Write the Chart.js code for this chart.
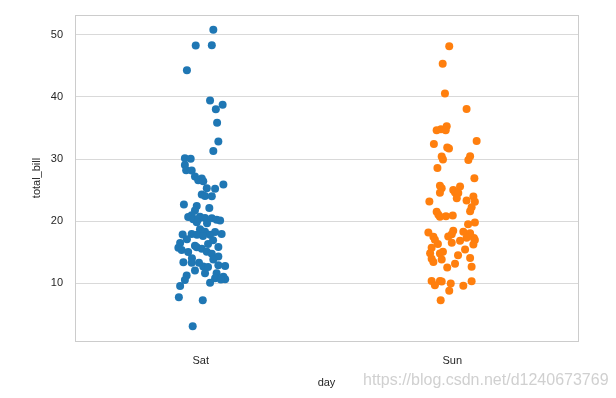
<!DOCTYPE html>
<html>
<head>
<meta charset="utf-8">
<script src="https://cdn.jsdelivr.net/npm/chart.js@4/dist/chart.umd.min.js"></script>
<style>
  html, body { margin: 0; padding: 0; background: #fff; }
  #wrap { width: 616px; height: 398px; }
</style>
</head>
<body>
<div id="wrap"><canvas id="strip"></canvas></div>
<script>
const days = ['Sat', 'Sun'];
const yTicks = [10, 20, 30, 40, 50];

const satBill = [
  50.81, 48.33, 48.27, 44.30, 39.42, 38.73, 38.01, 35.83, 32.83, 31.27,
  30.14, 30.06, 29.03, 28.17, 28.15, 27.18, 26.86, 26.59, 26.41, 25.89,
  25.28, 25.21, 24.27, 24.06, 24.01, 22.67, 22.42, 22.12, 21.70, 20.92,
  20.69, 20.65, 20.49, 20.45, 20.29, 20.29, 20.23, 20.08, 19.82, 19.65,
  18.69, 18.35, 18.29, 18.24, 17.92, 17.92, 17.82, 17.81, 17.78, 17.59,
  17.07, 16.93, 16.45, 16.31, 16.04, 15.81, 15.77, 15.69, 15.53, 15.36,
  15.06, 15.01, 14.73, 14.31, 14.00, 13.81, 13.37, 13.28, 13.27, 12.90,
  12.76, 12.69, 12.60, 12.02, 11.61, 11.59, 11.24, 11.02, 10.77, 10.63,
  10.59, 10.51, 10.07, 9.55, 7.74, 7.25, 3.07
];
// horizontal jitter (category units)
const satJitter = [
  0.050, 0.044, -0.020, -0.055, 0.037, 0.087, 0.060, 0.065, 0.070, 0.050,
  -0.063, -0.040, -0.063, -0.058, -0.036, -0.023, 0.004, -0.010, 0.010, 0.090,
  0.024, 0.057, 0.004, 0.017, 0.044, -0.067, -0.016, 0.034, -0.023, -0.036,
  -0.003, -0.050, 0.017, 0.044, -0.030, -0.010, 0.063, 0.077, -0.016, 0.025,
  -0.003, 0.004, 0.017, 0.057, 0.083, -0.036, -0.072, 0.037, -0.015, 0.009,
  -0.055, 0.049, -0.082, 0.029, -0.023, 0.070, -0.016, -0.089, 0.004, -0.076,
  0.024, -0.050, 0.044, 0.070, -0.035, 0.050, -0.069, -0.036, -0.007, 0.070,
  0.097, 0.010, 0.029, -0.023, 0.017, 0.063, -0.056, 0.090, 0.057, 0.097,
  0.080, -0.063, 0.037, -0.082, -0.087, 0.008, -0.032
];

const sunBill = [
  48.17, 45.35, 40.55, 38.07, 35.26, 34.81, 34.65, 34.63, 32.90, 32.40,
  31.85, 31.71, 30.46, 30.40, 29.93, 29.85, 28.55, 26.88, 25.71, 25.56,
  25.29, 25.00, 24.59, 24.55, 24.52, 23.95, 23.68, 23.33, 23.17, 23.10,
  22.23, 21.58, 21.50, 21.01, 20.90, 20.76, 20.69, 19.77, 19.49, 18.43,
  18.29, 18.15, 18.04, 17.89, 17.51, 17.46, 17.31, 17.26, 16.99, 16.97,
  16.82, 16.49, 16.29, 16.21, 15.69, 15.42, 15.04, 14.83, 14.78, 14.48,
  14.07, 13.94, 13.81, 13.39, 13.13, 12.66, 12.54, 10.34, 10.33, 10.29,
  10.27, 9.94, 9.68, 9.60, 8.77, 7.25
];
const sunJitter = [
  -0.012, -0.038, -0.029, 0.057, -0.022, -0.045, -0.026, -0.062, 0.097, -0.073,
  -0.020, -0.013, 0.071, -0.042, -0.037, 0.064, -0.059, 0.088, -0.049, 0.031,
  -0.042, 0.004, 0.011, -0.049, 0.024, 0.084, 0.018, 0.057, -0.091, 0.090,
  0.077, 0.071, -0.062, -0.055, 0.002, -0.025, -0.049, 0.090, 0.063, 0.004,
  0.044, -0.095, 0.071, -0.002, -0.016, -0.075, 0.057, 0.086, -0.069, 0.090,
  0.031, -0.002, -0.057, 0.084, -0.082, 0.051, -0.037, -0.088, -0.049, 0.023,
  0.071, -0.082, -0.042, -0.075, 0.011, 0.077, -0.020, -0.049, -0.082, 0.077,
  -0.042, -0.006, -0.069, 0.044, -0.012, -0.046
];

const toPoints = (idx, bills, jitter) => bills.map((v, i) => ({ x: idx + jitter[i], y: v }));

const frame = {
  id: 'frame',
  afterDatasetsDraw(chart) {
    const { ctx, chartArea: a } = chart;
    ctx.save();
    ctx.strokeStyle = '#cccccc';
    ctx.lineWidth = 1;
    ctx.strokeRect(Math.round(a.left) + 0.5, Math.round(a.top) + 0.5,
      Math.round(a.right - a.left), Math.round(a.bottom - a.top));
    ctx.restore();
  },
  afterDraw(chart) {
    const { ctx } = chart;
    ctx.save();
    ctx.font = "16px 'Liberation Sans', Arial, sans-serif";
    ctx.fillStyle = 'rgba(200,200,200,0.85)';
    ctx.textAlign = 'left';
    ctx.textBaseline = 'middle';
    ctx.fillText('https://blog.csdn.net/d1240673769', 363, 381);
    ctx.restore();
  }
};

const font = { family: "'Liberation Sans', Arial, sans-serif", size: 11 };

new Chart(document.getElementById('strip'), {
  type: 'scatter',
  data: {
    datasets: [
      {
        label: 'Sat',
        data: toPoints(0, satBill, satJitter),
        backgroundColor: '#1f77b4',
        borderWidth: 0,
        pointRadius: 4,
        pointHoverRadius: 4
      },
      {
        label: 'Sun',
        data: toPoints(1, sunBill, sunJitter),
        backgroundColor: '#ff7f0e',
        borderWidth: 0,
        pointRadius: 4,
        pointHoverRadius: 4
      }
    ]
  },
  options: {
    responsive: true,
    maintainAspectRatio: false,
    animation: false,
    layout: { autoPadding: false, padding: { top: 15, right: 38, left: 0, bottom: 0 } },
    scales: {
      x: {
        type: 'linear',
        min: -0.5,
        max: 1.5,
        afterBuildTicks: axis => { axis.ticks = days.map((d, i) => ({ value: i })); },
        afterFit: axis => { axis.height = 57; axis.paddingLeft = 0; axis.paddingRight = 0; },
        ticks: {
          color: '#262626',
          font,
          padding: 13,
          callback: value => days[value] ?? ''
        },
        grid: { display: false, drawTicks: false },
        border: { display: false },
        title: {
          display: true,
          text: 'day',
          color: '#262626',
          font,
          padding: { top: 0, bottom: 8 }
        }
      },
      y: {
        min: 0.68,
        max: 53.2,
        afterBuildTicks: axis => { axis.ticks = yTicks.map(v => ({ value: v })); },
        afterFit: axis => { axis.width = 75; axis.paddingTop = 0; axis.paddingBottom = 0; },
        ticks: {
          color: '#262626',
          font,
          padding: 12
        },
        grid: { color: '#d9d9d9', lineWidth: 1, drawTicks: false },
        border: { display: false },
        title: {
          display: true,
          text: 'total_bill',
          color: '#262626',
          font,
          padding: { top: 30, bottom: 0 }
        }
      }
    },
    plugins: {
      legend: { display: false },
      tooltip: { enabled: false }
    }
  },
  plugins: [frame]
});
</script>
</body>
</html>
